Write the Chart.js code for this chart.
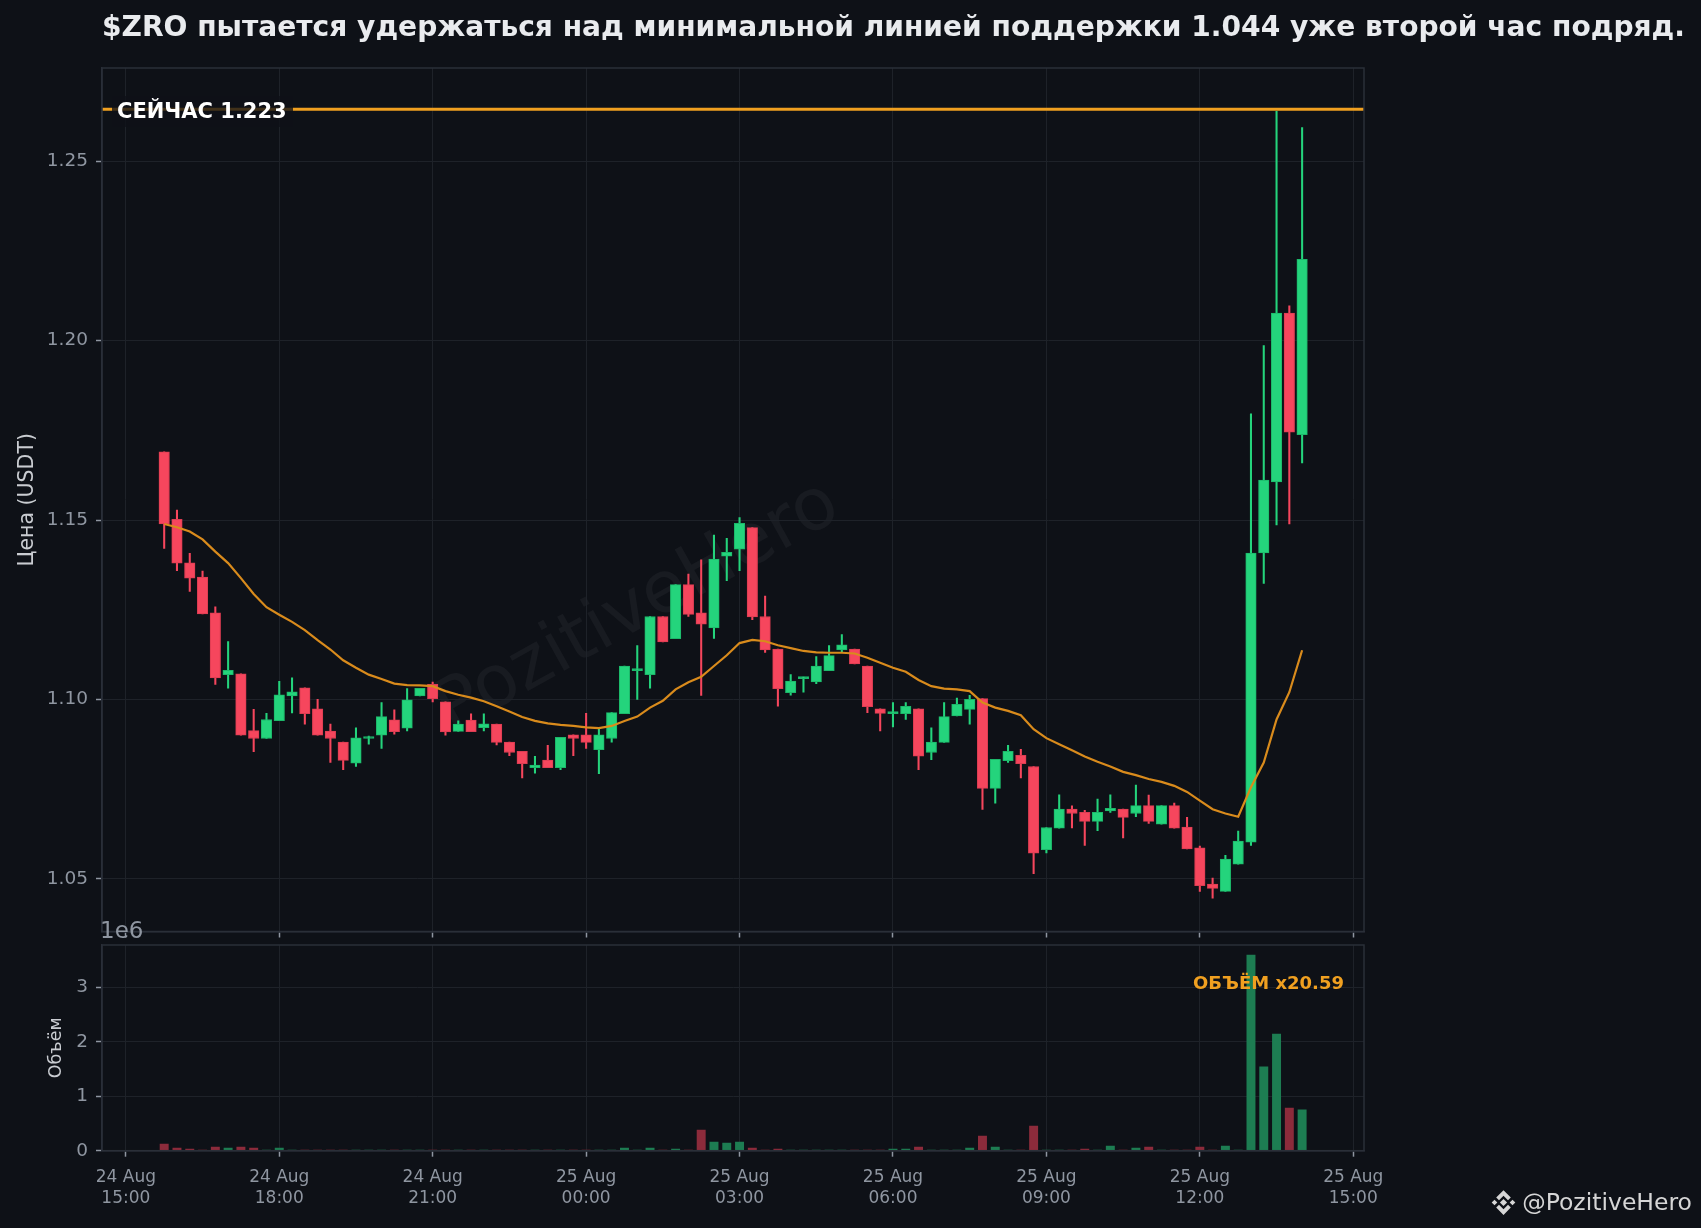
<!DOCTYPE html>
<html>
<head>
<meta charset="utf-8">
<script src="https://cdn.jsdelivr.net/npm/chart.js@4.4.1/dist/chart.umd.min.js"></script>
<style>
  html, body { margin: 0; padding: 0; background: #0e1117; }
  body { width: 1701px; height: 1228px; position: relative; overflow: hidden; font-family: 'DejaVu Sans', sans-serif; }
  canvas { position: absolute; left: 0; z-index: 1; }
  #priceCanvas { top: 0; }
  #volCanvas { top: 920px; }
  .note { position: absolute; white-space: nowrap; z-index: 2; }
  #title { left: 102px; top: 10px; font-size: 28.1px; line-height: 34px; font-weight: bold; color: #e9ebee; }
  #watermark { left: 635px; top: 603px; font-size: 72px; color: rgba(255,255,255,0.045); transform: translate(-50%, -50%) rotate(-29deg); z-index: 0; }
  #nowLabel { left: 112px; top: 96px; font-size: 21px; line-height: 25px; font-weight: bold; color: #ffffff; background: rgba(14,17,23,0.78); padding: 3px 6px 3px 5px; }
  #volLabel { right: 357px; top: 972px; font-size: 18px; line-height: 22px; font-weight: bold; color: #f0a020; }
  #offset { left: 100px; top: 917px; font-size: 23px; line-height: 27px; color: #8f96a1; }
  #credit { right: 9px; top: 1188px; font-size: 23.5px; line-height: 28px; color: #d6d6d6; }
  #logo { position: absolute; left: 1490px; top: 1189px; width: 27px; height: 27px; z-index: 2; }
</style>
</head>
<body>
<div id="title" class="note">$ZRO пытается удержаться над минимальной линией поддержки 1.044 уже второй час подряд.</div>
<div id="watermark" class="note">PozitiveHero</div>
<canvas id="priceCanvas" width="1701" height="960"></canvas>
<canvas id="volCanvas" width="1701" height="308"></canvas>
<div id="nowLabel" class="note">СЕЙЧАС 1.223</div>
<div id="volLabel" class="note">ОБЪЁМ x20.59</div>
<div id="offset" class="note">1e6</div>
<svg id="logo" viewBox="-12 -12 24 24">
  <g fill="#d6d6d6">
    <path d="M0,-3.2 L3.2,0 L0,3.2 L-3.2,0Z"/>
    <path d="M-10.5,0 L-8,-2.5 L-5.5,0 L-8,2.5Z"/>
    <path d="M5.5,0 L8,-2.5 L10.5,0 L8,2.5Z"/>
    <path d="M0,-11 L6.5,-4.5 L4,-2 L0,-6 L-4,-2 L-6.5,-4.5Z"/>
    <path d="M0,11 L6.5,4.5 L4,2 L0,6 L-4,2 L-6.5,4.5Z"/>
  </g>
</svg>
<div id="credit" class="note">@PozitiveHero</div>

<script>
// 15 minute candles, "day HH:MM" (August)
const times = [
  '24 15:45', '24 16:00', '24 16:15', '24 16:30', '24 16:45', '24 17:00', '24 17:15', '24 17:30', '24 17:45', '24 18:00',
  '24 18:15', '24 18:30', '24 18:45', '24 19:00', '24 19:15', '24 19:30', '24 19:45', '24 20:00', '24 20:15', '24 20:30',
  '24 20:45', '24 21:00', '24 21:15', '24 21:30', '24 21:45', '24 22:00', '24 22:15', '24 22:30', '24 22:45', '24 23:00',
  '24 23:15', '24 23:30', '24 23:45', '25 00:00', '25 00:15', '25 00:30', '25 00:45', '25 01:00', '25 01:15', '25 01:30',
  '25 01:45', '25 02:00', '25 02:15', '25 02:30', '25 02:45', '25 03:00', '25 03:15', '25 03:30', '25 03:45', '25 04:00',
  '25 04:15', '25 04:30', '25 04:45', '25 05:00', '25 05:15', '25 05:30', '25 05:45', '25 06:00', '25 06:15', '25 06:30',
  '25 06:45', '25 07:00', '25 07:15', '25 07:30', '25 07:45', '25 08:00', '25 08:15', '25 08:30', '25 08:45', '25 09:00',
  '25 09:15', '25 09:30', '25 09:45', '25 10:00', '25 10:15', '25 10:30', '25 10:45', '25 11:00', '25 11:15', '25 11:30',
  '25 11:45', '25 12:00', '25 12:15', '25 12:30', '25 12:45', '25 13:00', '25 13:15', '25 13:30', '25 13:45', '25 14:00'
];

const open = [
  1.1690, 1.1502, 1.1381, 1.1341, 1.1241, 1.1069, 1.1071, 1.0913, 1.0891, 1.0941,
  1.1010, 1.1032, 1.0974, 1.0912, 1.0881, 1.0822, 1.0891, 1.0900, 1.0943, 1.0920,
  1.1010, 1.1042, 1.0993, 1.0911, 1.0942, 1.0921, 1.0931, 1.0881, 1.0855, 1.0810,
  1.0831, 1.0810, 1.0901, 1.0901, 1.0860, 1.0891, 1.0960, 1.1080, 1.1069, 1.1231,
  1.1169, 1.1320, 1.1241, 1.1199, 1.1399, 1.1419, 1.1479, 1.1231, 1.1140, 1.1019,
  1.1058, 1.1049, 1.1080, 1.1138, 1.1140, 1.1093, 1.0974, 1.0960, 1.0960, 1.0974,
  1.0852, 1.0880, 1.0954, 1.0972, 1.1002, 1.0752, 1.0829, 1.0844, 1.0813, 1.0581,
  1.0641, 1.0694, 1.0685, 1.0660, 1.0689, 1.0694, 1.0682, 1.0704, 1.0652, 1.0704,
  1.0644, 1.0586, 1.0485, 1.0465, 1.0541, 1.0602, 1.1408, 1.1606, 1.2077, 1.1738
];
const high = [
  1.1690, 1.1528, 1.1407, 1.1358, 1.1258, 1.1161, 1.1071, 1.0972, 1.0961, 1.1050,
  1.1060, 1.1032, 1.1000, 1.0931, 1.0881, 1.0921, 1.0898, 1.0991, 1.0971, 1.1030,
  1.1031, 1.1048, 1.0993, 1.0940, 1.0960, 1.0960, 1.0931, 1.0881, 1.0855, 1.0841,
  1.0872, 1.0894, 1.0901, 1.0961, 1.0919, 1.0963, 1.1093, 1.1150, 1.1231, 1.1231,
  1.1320, 1.1349, 1.1389, 1.1458, 1.1449, 1.1507, 1.1479, 1.1288, 1.1140, 1.1069,
  1.1062, 1.1119, 1.1150, 1.1181, 1.1140, 1.1093, 1.0974, 1.0991, 1.0991, 1.0974,
  1.0921, 1.0991, 1.1004, 1.1011, 1.1002, 1.0833, 1.0872, 1.0861, 1.0813, 1.0643,
  1.0734, 1.0703, 1.0691, 1.0722, 1.0734, 1.0694, 1.0761, 1.0733, 1.0704, 1.0711,
  1.0671, 1.0591, 1.0502, 1.0565, 1.0633, 1.1796, 1.1986, 1.2639, 1.2097, 1.2594
];
const low = [
  1.1421, 1.1359, 1.1301, 1.1238, 1.1042, 1.1031, 1.0900, 1.0854, 1.0891, 1.0941,
  1.0962, 1.0931, 1.0900, 1.0824, 1.0804, 1.0813, 1.0875, 1.0863, 1.0903, 1.0912,
  1.1010, 1.0993, 1.0900, 1.0911, 1.0910, 1.0912, 1.0873, 1.0843, 1.0781, 1.0794,
  1.0810, 1.0804, 1.0843, 1.0863, 1.0793, 1.0881, 1.0960, 1.1000, 1.1031, 1.1160,
  1.1169, 1.1231, 1.1011, 1.1170, 1.1331, 1.1359, 1.1222, 1.1131, 1.0981, 1.1012,
  1.1020, 1.1044, 1.1080, 1.1133, 1.1099, 1.0963, 1.0912, 1.0923, 1.0944, 1.0804,
  1.0832, 1.0880, 1.0954, 1.0931, 1.0693, 1.0711, 1.0824, 1.0781, 1.0514, 1.0572,
  1.0641, 1.0642, 1.0593, 1.0634, 1.0685, 1.0614, 1.0673, 1.0654, 1.0652, 1.0641,
  1.0583, 1.0465, 1.0446, 1.0465, 1.0541, 1.0593, 1.1323, 1.1486, 1.1489, 1.1659
];
const close = [
  1.1489, 1.1380, 1.1338, 1.1238, 1.1060, 1.1081, 1.0900, 1.0891, 1.0944, 1.1013,
  1.1021, 1.0960, 1.0900, 1.0891, 1.0830, 1.0893, 1.0894, 1.0952, 1.0910, 1.0999,
  1.1031, 1.1002, 1.0909, 1.0931, 1.0910, 1.0932, 1.0880, 1.0852, 1.0821, 1.0817,
  1.0810, 1.0894, 1.0891, 1.0880, 1.0901, 1.0963, 1.1093, 1.1085, 1.1231, 1.1160,
  1.1320, 1.1237, 1.1210, 1.1391, 1.1410, 1.1491, 1.1230, 1.1138, 1.1030, 1.1051,
  1.1062, 1.1093, 1.1122, 1.1152, 1.1099, 1.0980, 1.0961, 1.0966, 1.0981, 1.0842,
  1.0881, 1.0952, 1.0986, 1.1000, 1.0752, 1.0833, 1.0855, 1.0821, 1.0571, 1.0643,
  1.0694, 1.0682, 1.0660, 1.0685, 1.0696, 1.0671, 1.0704, 1.0660, 1.0704, 1.0641,
  1.0583, 1.0481, 1.0473, 1.0555, 1.0605, 1.1408, 1.1611, 1.2077, 1.1745, 1.2227
];

// orange moving average line
const movingAvg = [
  1.1489, 1.1480, 1.1468, 1.1446, 1.1412, 1.1380, 1.1338, 1.1294, 1.1257, 1.1236,
  1.1216, 1.1193, 1.1165, 1.1139, 1.1109, 1.1088, 1.1069, 1.1057, 1.1044, 1.1040,
  1.1039, 1.1037, 1.1023, 1.1013, 1.1005, 1.0995, 1.0981, 1.0966, 1.0951, 1.0940,
  1.0933, 1.0929, 1.0926, 1.0922, 1.0920, 1.0926, 1.0940, 1.0952, 1.0977, 1.0996,
  1.1028, 1.1048, 1.1063, 1.1093, 1.1123, 1.1157, 1.1166, 1.1162, 1.1151, 1.1143,
  1.1135, 1.1131, 1.1130, 1.1130, 1.1128, 1.1116, 1.1102, 1.1088, 1.1077, 1.1054,
  1.1037, 1.1030, 1.1028, 1.1023, 1.0991, 1.0977, 1.0968, 1.0956, 1.0917, 1.0892,
  1.0875, 1.0858, 1.0841, 1.0826, 1.0813, 1.0798, 1.0789, 1.0778, 1.0770, 1.0759,
  1.0742, 1.0718, 1.0694, 1.0682, 1.0673, 1.0755, 1.0824, 1.0944, 1.1020, 1.1137
];

// volume in millions
const volume = [
  0.12, 0.05, 0.03, 0.003, 0.065, 0.05, 0.065, 0.05, 0.003, 0.05,
  0.003, 0.003, 0.003, 0.003, 0.003, 0.003, 0.003, 0.003, 0.003, 0.003,
  0.003, 0.003, 0.003, 0.003, 0.003, 0.003, 0.003, 0.003, 0.003, 0.003,
  0.003, 0.003, 0.003, 0.003, 0.003, 0.003, 0.05, 0.003, 0.05, 0.003,
  0.03, 0.003, 0.38, 0.16, 0.14, 0.16, 0.05, 0.003, 0.03, 0.003,
  0.003, 0.003, 0.003, 0.003, 0.003, 0.003, 0.003, 0.03, 0.03, 0.065,
  0.003, 0.003, 0.003, 0.05, 0.27, 0.065, 0.003, 0.003, 0.45, 0.003,
  0.003, 0.003, 0.03, 0.003, 0.085, 0.003, 0.05, 0.065, 0.003, 0.003,
  0.003, 0.065, 0.003, 0.085, 0.003, 3.59, 1.54, 2.14, 0.78, 0.75
];

const nowLevel = 1.2645;
const priceTicks = [1.05, 1.10, 1.15, 1.20, 1.25];
const volumeTicks = [0, 1, 2, 3];
const timeTicks = [15, 18, 21, 24, 27, 30, 33, 36, 39]; // hours from 24 Aug 00:00
const timeTickLabels = [
  ['24 Aug', '15:00'], ['24 Aug', '18:00'], ['24 Aug', '21:00'],
  ['25 Aug', '00:00'], ['25 Aug', '03:00'], ['25 Aug', '06:00'],
  ['25 Aug', '09:00'], ['25 Aug', '12:00'], ['25 Aug', '15:00']
];

const X_MIN = 14.534, X_MAX = 39.21;
const UP = '#24d47c', DOWN = '#f6465d';
const UP_EDGE = '#1cb86a', DOWN_EDGE = '#dc3d52';
const VOL_UP = '#1d7d52', VOL_DOWN = '#8c2b3b';
const GRID = '#1e2229', SPINE = '#2a2f38', TICK = '#8f96a1';

Chart.defaults.font.family = "'DejaVu Sans', sans-serif";

function toHours(s) {
    const [d, hm] = s.split(' ');
    const [h, m] = hm.split(':');
    return (parseInt(d) - 24) * 24 + parseInt(h) + parseInt(m) / 60;
}

const xs = times.map(toHours);
const up = xs.map((_, i) => close[i] >= open[i]);

const framePlugin = {
    id: 'frame',
    afterDraw(chart) {
        const { ctx, chartArea: a } = chart;
        ctx.save();
        ctx.strokeStyle = SPINE;
        ctx.lineWidth = 1.5;
        ctx.strokeRect(a.left, a.top, a.right - a.left, a.bottom - a.top);
        ctx.restore();
    }
};

function timeAxis(showLabels, height) {
    return {
        type: 'linear',
        min: X_MIN,
        max: X_MAX,
        offset: false,
        afterBuildTicks: s => { s.ticks = timeTicks.map(v => ({ value: v })); },
        afterFit: s => { s.height = height; },
        ticks: {
            display: showLabels,
            color: TICK,
            font: { size: 17, lineHeight: 1.25 },
            padding: 10,
            maxRotation: 0,
            autoSkip: false,
            callback: (v, i) => timeTickLabels[i]
        },
        grid: { offset: false, color: GRID, tickColor: TICK, tickLength: 6, tickWidth: 1.5 },
        border: { color: SPINE, width: 1.5 }
    };
}

function valueAxis(min, max, ticks, fmt, title, titleSize, titlePad) {
    return {
        min: min,
        max: max,
        afterBuildTicks: s => { s.ticks = ticks.map(v => ({ value: v })); },
        afterFit: s => { s.width = 102; },
        ticks: { color: TICK, font: { size: 18.5 }, padding: 8, callback: fmt },
        grid: { color: GRID, tickColor: TICK, tickLength: 6, tickWidth: 1.5 },
        border: { color: SPINE, width: 1.5 },
        title: {
            display: true,
            text: title,
            color: '#c9ccd1',
            font: { size: titleSize },
            padding: { top: titlePad, bottom: 0 }
        }
    };
}

new Chart(document.getElementById('priceCanvas'), {
    type: 'bar',
    data: {
        datasets: [
            {
                type: 'line',
                label: 'Сейчас',
                data: [{ x: X_MIN, y: nowLevel }, { x: X_MAX, y: nowLevel }],
                borderColor: '#f0a020',
                borderWidth: 3,
                pointRadius: 0,
                order: 0
            },
            {
                type: 'line',
                label: 'MA',
                data: xs.map((x, i) => ({ x: x, y: movingAvg[i] })),
                borderColor: '#d98b1c',
                borderWidth: 2.2,
                pointRadius: 0,
                order: 1
            },
            {
                label: 'Тело',
                data: xs.map((x, i) => ({ x: x, y: [open[i], close[i]] })),
                backgroundColor: up.map(u => u ? UP : DOWN),
                borderColor: up.map(u => u ? UP_EDGE : DOWN_EDGE),
                borderWidth: 1,
                borderSkipped: false,
                barThickness: 10.5,
                minBarLength: 2,
                grouped: false,
                order: 2
            },
            {
                label: 'Тень',
                data: xs.map((x, i) => ({ x: x, y: [low[i], high[i]] })),
                backgroundColor: up.map(u => u ? UP : DOWN),
                barThickness: 1.4,
                grouped: false,
                order: 3
            }
        ]
    },
    options: {
        responsive: false,
        animation: false,
        devicePixelRatio: 1,
        // chart area: 102..1364 x 68..931.5
        layout: { padding: { top: 68, right: 337, bottom: 22.5, left: 0 } },
        plugins: { legend: { display: false }, tooltip: { enabled: false } },
        scales: {
            x: timeAxis(false, 6),
            y: valueAxis(1.0353, 1.2760, priceTicks, v => v.toFixed(2), 'Цена (USDT)', 20.5, 15.5)
        }
    },
    plugins: [framePlugin]
});

new Chart(document.getElementById('volCanvas'), {
    type: 'bar',
    data: {
        datasets: [{
            label: 'Объём',
            data: xs.map((x, i) => ({ x: x, y: volume[i] })),
            backgroundColor: up.map(u => u ? VOL_UP : VOL_DOWN),
            barThickness: 8.3,
            grouped: false
        }]
    },
    options: {
        responsive: false,
        animation: false,
        devicePixelRatio: 1,
        // chart area: 102..1364 x 945..1150.7 on the page
        layout: { padding: { top: 25, right: 337, bottom: 0, left: 0 } },
        plugins: { legend: { display: false }, tooltip: { enabled: false } },
        scales: {
            x: timeAxis(true, 77.3),
            y: valueAxis(0, 3.775, volumeTicks, v => String(v), 'Объём', 17.5, 46)
        }
    },
    plugins: [framePlugin]
});
</script>
</body>
</html>
